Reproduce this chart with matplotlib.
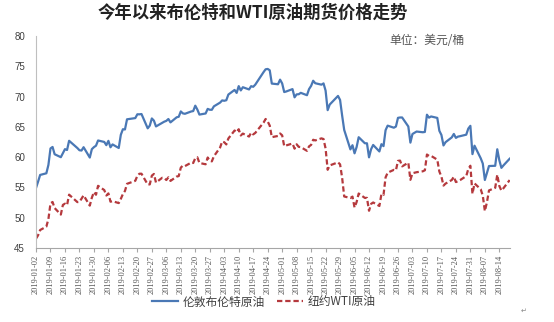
import matplotlib
matplotlib.use("Agg")
import matplotlib.pyplot as plt
import matplotlib.dates as mdates
import pandas as pd

plt.rcParams['font.family'] = ['Noto Sans CJK SC', 'DejaVu Sans']
plt.rcParams['axes.unicode_minus'] = False

# trading days 2019-01-02 .. 2019-08-19 (US holidays dropped)
holidays = ['2019-01-21', '2019-02-18', '2019-04-19', '2019-05-27', '2019-07-04']
dates = pd.bdate_range('2019-01-02', '2019-08-19')
dates = dates[~dates.isin(pd.to_datetime(holidays))]

brent = [
    # Jan
    54.91, 55.95, 57.06, 57.33, 58.72, 61.44, 61.68, 60.48, 59.99, 60.64, 61.32,
    61.18, 62.70, 61.50, 61.14, 61.09, 61.64, 59.93, 61.32, 61.65, 61.89,
    # Feb
    62.75, 62.51, 61.98, 62.69, 61.63, 62.10, 61.51, 63.69, 64.61, 64.57, 66.25,
    66.45, 67.08, 67.07, 67.12, 64.76, 65.21, 66.39, 66.03,
    # Mar
    65.07, 65.67, 65.86, 65.99, 66.30, 65.74, 66.58, 66.67, 67.55, 67.23, 67.16,
    67.54, 67.61, 68.50, 67.86, 67.03, 67.21, 67.97, 67.83, 67.82, 68.39,
    # Apr
    69.01, 69.37, 69.31, 69.40, 70.34, 71.10, 70.61, 71.73, 71.02, 71.55, 71.18,
    71.72, 71.62, 71.97, 74.04, 74.51, 74.57, 74.35, 72.15, 72.04, 72.80,
    # May
    72.18, 70.75, 70.85, 71.24, 69.88, 70.37, 70.39, 70.62, 70.23, 71.24, 71.77,
    72.62, 72.21, 71.97, 72.18, 70.99, 67.76, 68.69, 70.11, 69.45, 66.87, 64.49,
    # Jun
    61.28, 61.97, 60.63, 61.67, 63.29, 62.29, 62.29, 59.97, 61.31, 62.01, 60.94,
    62.14, 61.82, 64.45, 65.20, 64.86, 65.05, 66.49, 66.55, 66.55,
    # Jul
    65.06, 62.40, 63.82, 64.23, 64.11, 64.16, 67.01, 66.52, 66.72, 66.48, 64.35,
    63.66, 61.93, 62.47, 63.26, 63.83, 63.18, 63.39, 63.46, 63.71, 64.72, 65.17,
    # Aug
    60.50, 61.89, 59.81, 58.94, 56.23, 57.38, 58.53, 58.57, 61.30, 59.48, 58.23,
    58.64, 59.74,
]

wti = [
    # Jan
    46.54, 47.09, 47.96, 48.52, 49.78, 52.36, 52.59, 51.59, 50.51, 52.11, 52.31,
    52.07, 53.80, 52.57, 52.62, 53.13, 53.69, 51.99, 53.31, 54.23, 53.79,
    # Feb
    55.26, 54.56, 53.66, 54.01, 52.64, 52.72, 52.41, 53.10, 53.90, 54.41, 55.59,
    56.09, 56.92, 57.26, 57.26, 55.48, 55.50, 56.94, 57.22,
    # Mar
    55.80, 56.59, 56.56, 56.22, 56.66, 56.07, 56.79, 56.87, 58.26, 58.61, 58.52,
    59.09, 59.03, 59.83, 59.98, 59.04, 58.82, 59.94, 59.41, 59.30, 60.14,
    # Apr
    61.59, 62.58, 62.46, 62.10, 63.08, 64.40, 64.12, 64.61, 63.58, 63.89, 63.40,
    64.05, 63.76, 64.00, 65.70, 66.30, 65.89, 65.21, 63.30, 63.50, 63.91,
    # May
    63.60, 61.81, 61.94, 62.25, 61.40, 62.12, 61.70, 61.66, 61.04, 61.78, 62.02,
    62.87, 62.76, 63.10, 62.99, 61.42, 57.91, 58.63, 59.14, 58.81, 56.59, 53.50,
    # Jun
    53.25, 53.48, 51.68, 52.59, 53.99, 53.26, 53.27, 51.14, 52.28, 52.51, 51.93,
    53.90, 53.76, 56.65, 57.43, 57.90, 57.83, 59.38, 59.43, 58.47,
    # Jul
    59.09, 56.25, 57.34, 57.51, 57.66, 57.83, 60.43, 60.20, 60.21, 59.58, 57.62,
    56.78, 55.30, 55.63, 56.22, 56.77, 55.88, 56.02, 56.20, 56.87, 58.05, 58.58,
    # Aug
    53.95, 55.66, 54.69, 53.63, 51.09, 52.54, 54.50, 54.93, 57.10, 55.23, 54.47,
    54.87, 56.21,
]

tick_dates = pd.date_range('2019-01-02', '2019-08-14', freq='7D')
y_ticks = [45, 50, 55, 60, 65, 70, 75, 80]

title = '今年以来布伦特和WTI原油期货价格走势'
unit = '单位：美元/桶'
label_brent = '伦敦布伦特原油'
label_wti = '纽约WTI原油'

fig = plt.figure(figsize=(5.54, 3.22), dpi=100)
ax = fig.add_axes([0.065, 0.23, 0.855, 0.658])

ax.plot(dates, brent, color='#4a78b5', lw=1.6, label=label_brent)
ax.plot(dates, wti, color='#b5393d', lw=1.6, dashes=(2.4, 1.3), label=label_wti)

ax.set_ylim(45, 80)
ax.set_yticks(y_ticks)
ax.set_xlim(pd.Timestamp('2019-01-02'), pd.Timestamp('2019-08-19'))
ax.set_xticks(tick_dates)
ax.xaxis.set_major_formatter(mdates.DateFormatter('%Y-%m-%d'))

for lbl in ax.get_xticklabels():
    lbl.set_rotation(90)
    lbl.set_fontfamily('Liberation Serif')
    lbl.set_fontsize(6)
    lbl.set_color('#555555')
for lbl in ax.get_yticklabels():
    lbl.set_fontfamily('Liberation Sans')
    lbl.set_fontsize(7)
    lbl.set_color('#404040')

for s in ['top', 'right']:
    ax.spines[s].set_visible(False)
ax.spines['left'].set_color('#bfbfbf')
ax.spines['bottom'].set_color('#a6a6a6')
ax.tick_params(axis='y', length=0, pad=8)
ax.tick_params(axis='x', direction='out', length=3, color='#a6a6a6', pad=2)

fig.text(253 / 554, 1 - 13 / 322, title, ha='center', va='center',
         fontsize=12.5, fontweight='bold', color='#222222')
fig.text(427 / 554, 1 - 41 / 322, unit, ha='center', va='center',
         fontsize=8.5, color='#555555')
fig.text(524 / 554, 1 - 311 / 322, '↵', ha='center', va='center',
         fontsize=5, color='#888888', family='DejaVu Sans')

fig.legend(loc='center', bbox_to_anchor=(264 / 554, 1 - 302 / 322), ncol=2,
           frameon=False, fontsize=8.5, handlelength=2.2, handletextpad=0.4,
           columnspacing=1.0, labelcolor='#404040')

fig.savefig('out.png', dpi=100)
